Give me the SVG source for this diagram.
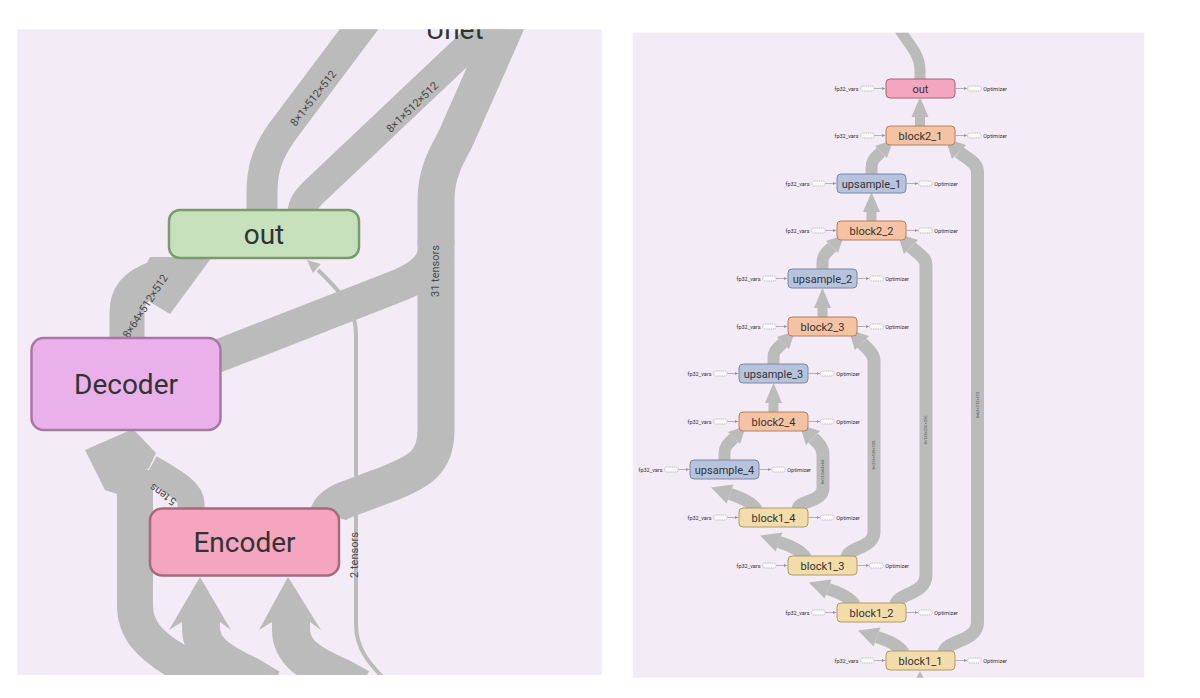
<svg xmlns="http://www.w3.org/2000/svg" xmlns:xlink="http://www.w3.org/1999/xlink" width="1200" height="698" viewBox="0 0 1200 698">
<style>
.bg{fill:#f3ebf5}
.band{fill:none;stroke:#bbbbbb;stroke-linecap:butt;stroke-linejoin:round}
.ah{fill:#bbbbbb}
.elab{font-family:Roboto,"Liberation Sans",sans-serif;font-size:11px;fill:#4a4a4a;text-anchor:middle}
.tiny{font-family:Roboto,"Liberation Sans",sans-serif;font-size:4px;fill:#555;text-anchor:middle}
.big{font-family:Roboto,"Liberation Sans",sans-serif;font-size:28px;fill:#333;text-anchor:middle}
.nl{font-family:Roboto,"Liberation Sans",sans-serif;font-size:11px;fill:#333;text-anchor:middle}
.sd{font-family:Roboto,"Liberation Sans",sans-serif;font-size:5.5px;fill:#333}
.sbox{fill:#f9f9f9;stroke:#aaa;stroke-width:0.8;stroke-dasharray:1 0.8}
.sline{stroke:#999;stroke-width:0.7;fill:none}
.b2{fill:#f5c3a3;stroke:#b4805f;stroke-width:1}
.b1{fill:#f2dcaa;stroke:#b39a62;stroke-width:1}
.up{fill:#b7c3dd;stroke:#7b88a6;stroke-width:1}
.pk{fill:#f4a6c0;stroke:#a86479;stroke-width:1}
</style>
<defs>
<clipPath id="cl"><rect x="17.3" y="29.3" width="584.4" height="645.7"/></clipPath>
<clipPath id="cr"><rect x="632.7" y="32.7" width="511.6" height="645"/></clipPath>
<marker id="sa" viewBox="0 0 4 4" refX="4" refY="2" markerWidth="3.2" markerHeight="3.2" markerUnits="userSpaceOnUse" orient="auto"><path d="M0 0 L4 2 L0 4 Z" fill="#999"/></marker>
<g id="sdeco">
<text class="sd" x="-27.5" y="11.5" text-anchor="end">fp32_vars</text>
<rect class="sbox" x="-25.3" y="7" width="13.4" height="5" rx="2"/>
<line class="sline" x1="-11.7" y1="9.5" x2="-0.8" y2="9.5" marker-end="url(#sa)"/>
<line class="sline" x1="69.3" y1="9.5" x2="81" y2="9.5" marker-end="url(#sa)"/>
<rect class="sbox" x="81.7" y="7" width="13.4" height="5" rx="2"/>
<text class="sd" x="97.3" y="11.5">Optimizer</text>
</g>
</defs>

<rect class="bg" x="17.3" y="29.3" width="584.4" height="645.7"/>
<rect class="bg" x="632.7" y="32.7" width="511.6" height="645"/>

<!-- LEFT PANEL -->
<g clip-path="url(#cl)">
<g id="left-connectors">
<path class="band" stroke-width="31" d="M262 214 L262 192 C262 168 268 152 282 132 L366 20"/>
<path class="band" stroke-width="29" d="M302 214 C302 204 308 197 318 188 L502 14"/>
<path class="band" stroke-width="37" d="M436 245 L436 200 C436 175 445 158 455 140 L508 20"/>
<path class="band" stroke-width="37" d="M436 240 L436 430 C436 462 420 472 385 485 L345 500 C335 504 330 508 328 515"/>
<path class="band" stroke-width="33" d="M200 363 L400 285 C425 275 436 262 436 240"/>
<path class="band" stroke-width="35" d="M127 345 L127 312 C127 295 136 285 156 278"/>
<polygon class="ah" points="150,257 212,257 170,314 150,302 138,280"/>
<path class="band" stroke-width="4" d="M395 690 C370 665 356 650 356 625 L356 335 C356 310 345 296 318 270"/>
<polygon class="ah" points="307,260 320.7,264 312.9,273"/>
<path class="band" stroke-width="36" d="M135 470 L135 605 C135 630 150 645 175 660 L215 690"/>
<polygon class="ah" points="133,429 156,453 149,468 135,480 117,494 105,490 85,450"/>
<path class="band" stroke-width="27" d="M191 512 L191 503 C191 493 178 484 150 468"/>
<path class="band" stroke-width="38" d="M201 620 L201 628 C201 650 220 662 250 676 L270 688"/>
<polygon class="ah" points="200,577 231,630 220,622 182,622 169,630"/>
<path class="band" stroke-width="38" d="M291 620 L291 630 C291 652 310 664 340 677 L360 688"/>
<polygon class="ah" points="288,577 321,630 310,622 272,622 259,630"/>
<text class="elab" transform="translate(313,98) rotate(-52)" dy="4">8×1×512×512</text>
<text class="elab" transform="translate(412,107) rotate(-44)" dy="4">8×1×512×512</text>
<text class="elab" transform="translate(145,306) rotate(-57)" dy="4">8×64×512×512</text>
<text class="elab" transform="translate(435,271) rotate(-90)" dy="4">31 tensors</text>
<text class="elab" transform="translate(354,555) rotate(-90)" dy="4">2 tensors</text>
<text class="elab" transform="translate(163,495) rotate(215)" dy="4">5 tens</text>
</g>
<text x="426" y="39" font-family="Roboto,'Liberation Sans',sans-serif" font-size="28" fill="#333">Unet</text>
<g id="node-out-l"><rect x="169" y="210" width="190" height="48" rx="11" fill="#c7e1bc" stroke="#7d9a6e" stroke-width="2.5"/><text class="big" x="264" y="244">out</text></g>
<g id="node-decoder"><rect x="31.5" y="338" width="189" height="92" rx="12" fill="#eab0ea" stroke="#a877a6" stroke-width="2.5"/><text class="big" x="126" y="394">Decoder</text></g>
<g id="node-encoder"><rect x="150" y="508.5" width="189" height="67" rx="12" fill="#f4a5c0" stroke="#a8697f" stroke-width="2.5"/><text class="big" x="244.5" y="552">Encoder</text></g>
</g>

<!-- RIGHT PANEL -->
<g clip-path="url(#cr)">
<g id="right-connectors">
<path class="band" stroke-width="11" d="M897 25 C906 42 920 52 920 70 L920 80"/>
<polygon class="ah" points="920,671 929,688 911,688"/>
<path class="band" stroke-width="10" d="M920 127 L920 114"/><polygon class="ah" points="920,97 928.5,117 911.5,117"/>
<path class="band" stroke-width="10" d="M871.5 222 L871.5 209"/><polygon class="ah" points="871.5,192 880,212 863,212"/>
<path class="band" stroke-width="10" d="M822.5 318 L822.5 305"/><polygon class="ah" points="822.5,288 831,308 814,308"/>
<path class="band" stroke-width="10" d="M773.5 413 L773.5 400"/><polygon class="ah" points="773.5,383 782,403 765,403"/>
<path class="band" stroke-width="12" d="M871.5 175 L871.5 168 C871.5 160 875 158 881 152"/><polygon class="ah" points="893,140 887,158 875,146"/>
<path class="band" stroke-width="12" d="M822.5 270 L822.5 263 C822.5 255 826 253 832 247"/><polygon class="ah" points="844,235 838,253 826,241"/>
<path class="band" stroke-width="12" d="M773.5 365 L773.5 358 C773.5 350 777 349 783 343"/><polygon class="ah" points="795,331 789,349 777,337"/>
<path class="band" stroke-width="12" d="M724.5 461 L724.5 454 C724.5 446 728 444 734 438"/><polygon class="ah" points="746,426 740,444 728,432"/>
<path class="band" stroke-width="13" d="M944 652 C947 640 977.5 642 977.5 622 L977.5 172 C977.5 162 966 158 959 152"/><polygon class="ah" points="945.6,138.6 966.1,144.9 951.9,159.1"/>
<path class="band" stroke-width="13" d="M896 604 C899 593 926 594 926 575 L926 265 C926 257 917 253 911 247"/><polygon class="ah" points="897.6,233.6 918.1,239.9 903.9,254.1"/>
<path class="band" stroke-width="13" d="M847 557 C849 547 874 548 874 532 L874 361 C874 353 867 349 862 343"/><polygon class="ah" points="848.6,329.6 869.1,335.9 854.9,350.1"/>
<path class="band" stroke-width="13" d="M798 509 C800 500 823 502 823 488 L823 455 C823 447 818 443 813 438"/><polygon class="ah" points="799.6,424.6 820.1,430.9 805.9,445.1"/>
<path class="band" stroke-width="12" d="M757 510 C752 502 742 498 730 494"/><polygon class="ah" points="711,487.5 733.4,484.6 726.6,503.4"/>
<path class="band" stroke-width="12" d="M806 558 C801 550 791 546 779 542"/><polygon class="ah" points="760,535.5 782.4,532.6 775.6,551.4"/>
<path class="band" stroke-width="12" d="M855 605 C850 597 840 593 828 589"/><polygon class="ah" points="809,582.5 831.4,579.6 824.6,598.4"/>
<path class="band" stroke-width="12" d="M904 653 C899 645 889 641 877 637"/><polygon class="ah" points="858,630.5 880.4,627.6 873.6,646.4"/>
<text class="tiny" transform="translate(977.5,405) rotate(-90)" dy="1.4">8×64×512×512</text>
<text class="tiny" transform="translate(926,430) rotate(-90)" dy="1.4">8×128×256×256</text>
<text class="tiny" transform="translate(874,455) rotate(-90)" dy="1.4">8×256×128×128</text>
<text class="tiny" transform="translate(823,472) rotate(-90)" dy="1.4">8×512×64×64</text>
</g>
<g id="node-out"><rect class="pk" x="886" y="79" width="69" height="19" rx="4"/><text class="nl" x="920.5" y="92.5">out</text><use href="#sdeco" x="886" y="79"/></g>
<g id="node-block2_1"><rect class="b2" x="886" y="126" width="69" height="19" rx="4"/><text class="nl" x="920.5" y="139.5">block2_1</text><use href="#sdeco" x="886" y="126"/></g>
<g id="node-upsample_1"><rect class="up" x="837" y="174" width="69" height="19" rx="4"/><text class="nl" x="871.5" y="187.5">upsample_1</text><use href="#sdeco" x="837" y="174"/></g>
<g id="node-block2_2"><rect class="b2" x="837" y="221" width="69" height="19" rx="4"/><text class="nl" x="871.5" y="234.5">block2_2</text><use href="#sdeco" x="837" y="221"/></g>
<g id="node-upsample_2"><rect class="up" x="788" y="269" width="69" height="19" rx="4"/><text class="nl" x="822.5" y="282.5">upsample_2</text><use href="#sdeco" x="788" y="269"/></g>
<g id="node-block2_3"><rect class="b2" x="788" y="317" width="69" height="19" rx="4"/><text class="nl" x="822.5" y="330.5">block2_3</text><use href="#sdeco" x="788" y="317"/></g>
<g id="node-upsample_3"><rect class="up" x="739" y="364" width="69" height="19" rx="4"/><text class="nl" x="773.5" y="377.5">upsample_3</text><use href="#sdeco" x="739" y="364"/></g>
<g id="node-block2_4"><rect class="b2" x="739" y="412" width="69" height="19" rx="4"/><text class="nl" x="773.5" y="425.5">block2_4</text><use href="#sdeco" x="739" y="412"/></g>
<g id="node-upsample_4"><rect class="up" x="690" y="460" width="69" height="19" rx="4"/><text class="nl" x="724.5" y="473.5">upsample_4</text><use href="#sdeco" x="690" y="460"/></g>
<g id="node-block1_4"><rect class="b1" x="739" y="508" width="69" height="19" rx="4"/><text class="nl" x="773.5" y="521.5">block1_4</text><use href="#sdeco" x="739" y="508"/></g>
<g id="node-block1_3"><rect class="b1" x="788" y="556" width="69" height="19" rx="4"/><text class="nl" x="822.5" y="569.5">block1_3</text><use href="#sdeco" x="788" y="556"/></g>
<g id="node-block1_2"><rect class="b1" x="837" y="603" width="69" height="19" rx="4"/><text class="nl" x="871.5" y="616.5">block1_2</text><use href="#sdeco" x="837" y="603"/></g>
<g id="node-block1_1"><rect class="b1" x="886" y="651" width="69" height="19" rx="4"/><text class="nl" x="920.5" y="664.5">block1_1</text><use href="#sdeco" x="886" y="651"/></g>
</g>
</svg>
